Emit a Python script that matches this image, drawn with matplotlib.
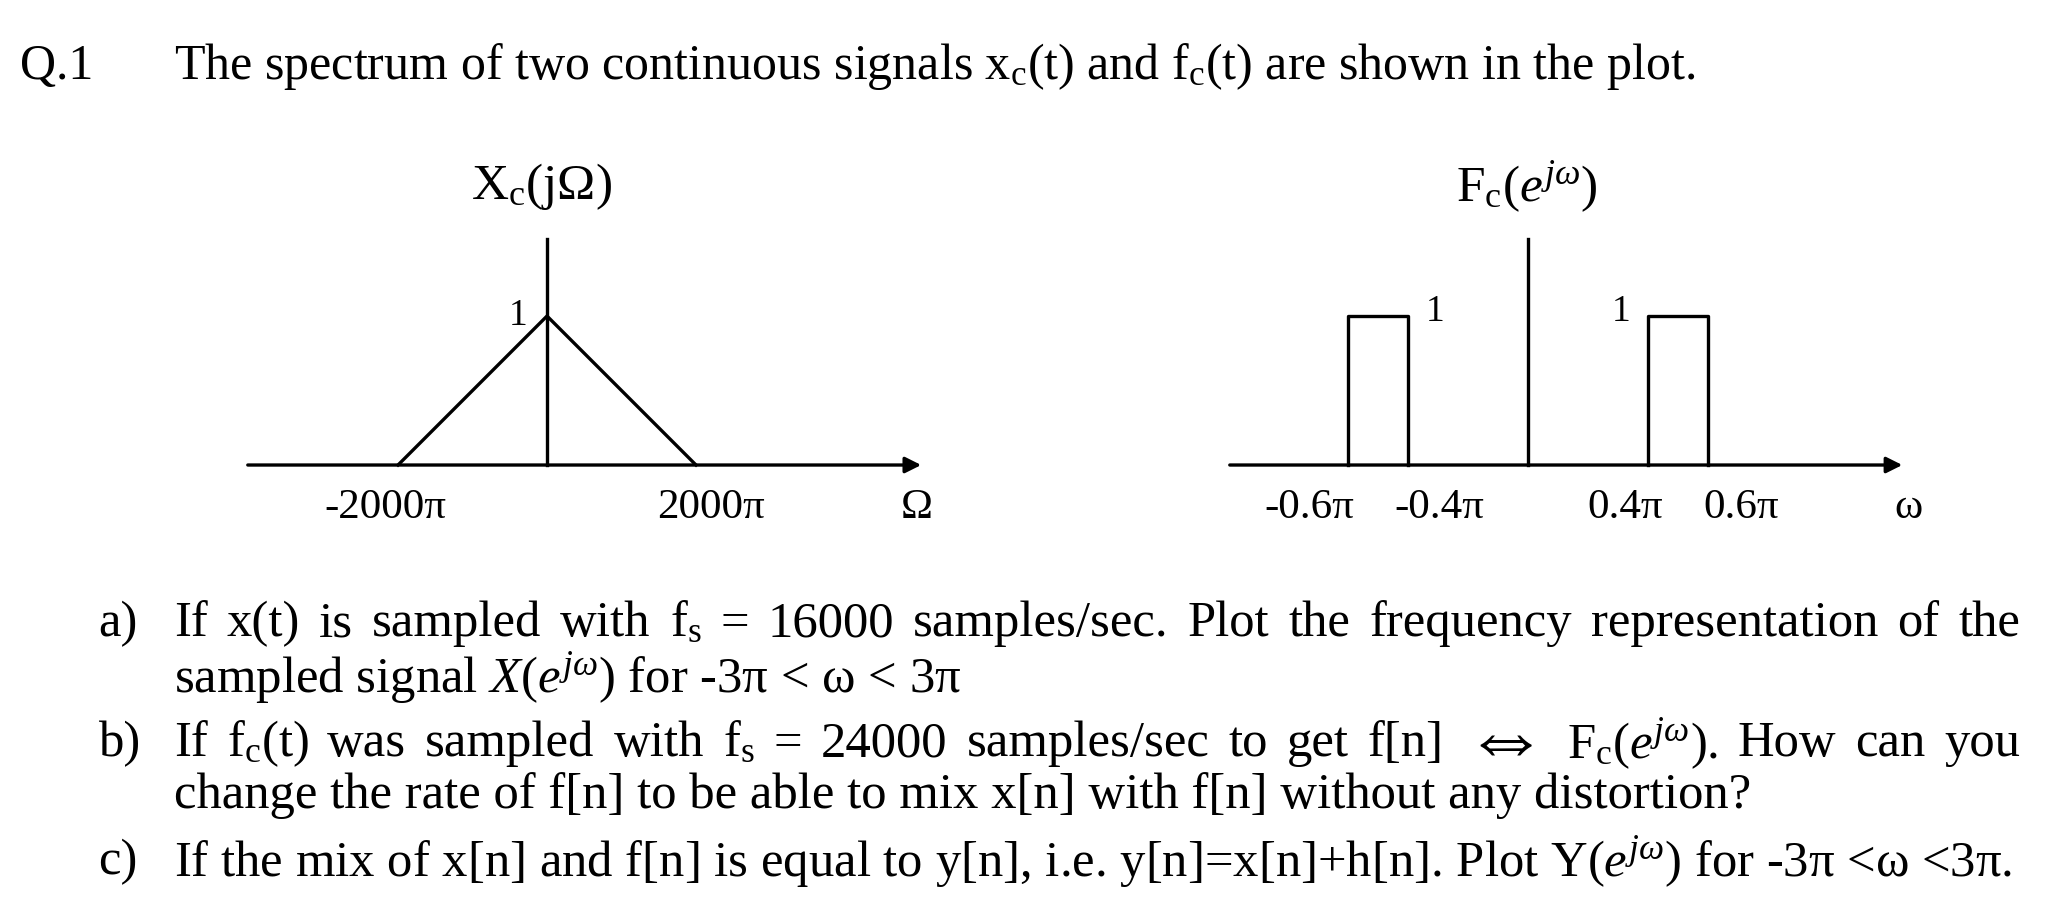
import matplotlib
matplotlib.use("Agg")
import matplotlib.pyplot as plt

plt.rcParams['font.family'] = ['Liberation Serif', 'DejaVu Serif']
plt.rcParams['mathtext.fontset'] = 'custom'
plt.rcParams['mathtext.rm'] = 'Liberation Serif'
plt.rcParams['mathtext.it'] = 'Liberation Serif:italic'
plt.rcParams['mathtext.fallback'] = 'stix'

# spectrum of x_c (omega in units of pi)
x_tri = [-2000, 0, 2000]
y_tri = [0, 1, 0]
# spectrum of f_c (omega in units of pi)
f_bands = [(-0.6, -0.4), (0.4, 0.6)]
f_height = 1

left_ticks = ['-2000π', '2000π', 'Ω']
left_tick_px = [385, 711, 917]
right_ticks = ['-0.6π', '-0.4π', '0.4π', '0.6π', 'ω']
right_tick_px = [1309, 1439, 1625, 1741, 1909]

header = 'The spectrum of two continuous signals x$_\\mathrm{c}$(t) and f$_\\mathrm{c}$(t) are shown in the plot.'
# (label, y, text, justified)
questions = [
    ('a)', 624, 'If x(t) is sampled with f$_\\mathrm{s}$ = 16000 samples/sec. Plot the frequency representation of the', True),
    (None, 678, 'sampled signal $X(e^{j\\omega})$ for -3π < ω < 3π', False),
    ('b)', 744, 'If f$_\\mathrm{c}$(t) was sampled with f$_\\mathrm{s}$ = 24000 samples/sec to get f[n] ⇔ F$_\\mathrm{c}$($e^{j\\omega}$). How can you', True),
    (None, 796, 'change the rate of f[n] to be able to mix x[n] with f[n] without any distortion?', False),
    ('c)', 862, 'If the mix of x[n] and f[n] is equal to y[n], i.e. y[n]=x[n]+h[n]. Plot Y($e^{j\\omega}$) for -3π <ω <3π.', False),
]

W, H = 2046, 915
fig = plt.figure(figsize=(W / 100, H / 100), dpi=100)
main = fig.add_axes([0, 0, 1, 1])
main.set_xlim(0, W)
main.set_ylim(H, 0)
main.axis('off')
renderer = fig.canvas.get_renderer()


def justified(x0, x1, y, s, fs):
    # split on spaces that are not inside $...$
    words, cur, inmath = [], '', False
    for ch in s:
        if ch == '$':
            inmath = not inmath
        if ch == ' ' and not inmath:
            if cur:
                words.append(cur)
            cur = ''
        else:
            cur += ch
    words.append(cur)
    arts = [main.text(0, y, w, fontsize=fs * (1.7 if w == '⇔' else 1),
                      va='center', ha='left') for w in words]
    widths = [a.get_window_extent(renderer).width for a in arts]
    gap = (x1 - x0 - sum(widths)) / (len(words) - 1)
    x = x0
    for a, w in zip(arts, widths):
        a.set_x(x)
        x += w + gap


FS_Q = 36.5
main.text(20, 67, 'Q.1', fontsize=36, va='center', ha='left')
main.text(174, 67, header, fontsize=36, va='center', ha='left')
for lab, y, s, just in questions:
    if lab:
        main.text(98, y, lab, fontsize=FS_Q, va='center', ha='left')
    if just:
        justified(174, 2020, y, s, FS_Q)
    else:
        main.text(174, y, s, fontsize=FS_Q, va='center', ha='left')

main.text(542, 187, 'X$_\\mathrm{c}$(jΩ)', fontsize=37, ha='center', va='center')
main.text(1527, 187, 'F$_\\mathrm{c}$($e^{j\\omega}$)', fontsize=37, ha='center', va='center')
for s, px in zip(left_ticks, left_tick_px):
    main.text(px, 508, s, fontsize=31, ha='center', va='center')
for s, px in zip(right_ticks, right_tick_px):
    main.text(px, 508, s, fontsize=31, ha='center', va='center')


def px_axes(x0, x1, y0, y1):
    return fig.add_axes([x0 / W, 1 - y1 / H, (x1 - x0) / W, (y1 - y0) / H])


lw = 2.4
ylo, yhi = -0.067, 1.611
# left plot
axl = px_axes(245, 935, 225, 475)
axl.set_xlim(-4054, 5208)
axl.set_ylim(ylo, yhi)
axl.axis('off')
axl.plot(x_tri, y_tri, color='black', lw=lw)
axl.plot([0, 0], [0, 1.517], color='black', lw=lw)
axl.annotate('', xy=(5060, 0), xytext=(-4054, 0),
             arrowprops=dict(arrowstyle='-|>', color='black', lw=lw, mutation_scale=24))
axl.text(-390, 1.0, '1', fontsize=27, ha='center', va='center')

# right plot
axr = px_axes(1227, 1915, 225, 475)
axr.set_xlim(-1.003, 1.29)
axr.set_ylim(ylo, yhi)
axr.axis('off')
for a, b in f_bands:
    axr.plot([a, a, b, b], [0, f_height, f_height, 0], color='black', lw=lw)
axr.plot([0, 0], [0, 1.517], color='black', lw=lw)
axr.annotate('', xy=(1.257, 0), xytext=(-1.003, 0),
             arrowprops=dict(arrowstyle='-|>', color='black', lw=lw, mutation_scale=24))
axr.text(-0.31, 1.03, '1', fontsize=27, ha='center', va='center')
axr.text(0.31, 1.03, '1', fontsize=27, ha='center', va='center')

fig.savefig('out.png', dpi=100, facecolor='white')
